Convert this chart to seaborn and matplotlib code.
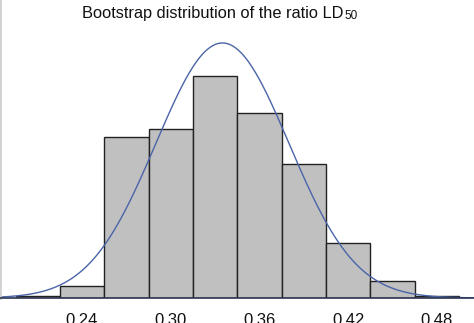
import numpy as np
import pandas as pd
import matplotlib
matplotlib.use("Agg")
import matplotlib.pyplot as plt
import seaborn as sns

# Data
bin_centers = [0.21, 0.24, 0.27, 0.30, 0.33, 0.36, 0.39, 0.42, 0.45, 0.48]
counts = [2, 12, 161, 169, 222, 185, 134, 55, 17, 2]
tick_values = [0.24, 0.30, 0.36, 0.42, 0.48]
tick_labels = ["0.24", "0.30", "0.36", "0.42", "0.48"]
fit_mean = 0.335
fit_sd = 0.045
bin_width = 0.03
title_main = "Bootstrap distribution of the ratio LD"
title_sub = "50"

sns.set_theme(style="white")
plt.rcParams['font.family'] = ['Liberation Sans', 'DejaVu Sans']

fig = plt.figure(figsize=(4.74, 3.23), dpi=100)
ax = fig.add_axes([0, 25/323, 1, 298/323])

df = pd.DataFrame({"x": bin_centers, "w": counts})
lo = bin_centers[0] - bin_width / 2
hi = bin_centers[-1] + bin_width / 2
sns.histplot(data=df, x="x", weights="w", binwidth=bin_width, binrange=(lo, hi),
             color="#c0c0c0", edgecolor="#222222", linewidth=1.0, alpha=1, ax=ax)

# fitted normal curve scaled to the histogram
N = sum(counts)
xs = np.linspace(0.185, 0.505, 400)
ys = N * bin_width / (fit_sd * np.sqrt(2 * np.pi)) * np.exp(-0.5 * ((xs - fit_mean) / fit_sd) ** 2)
sns.lineplot(x=xs, y=ys, color="#4a64a8", linewidth=1.0, ax=ax)

ax.set_xlim(0.1845, 0.5052)
ax.set_ylim(0, 298)
ax.set_xticks(tick_values)
ax.set_xticklabels(tick_labels, fontsize=12, color="#111111")
ax.set_yticks([])
ax.set_xlabel("")
ax.set_ylabel("")
ax.tick_params(axis="x", length=0, pad=10.5)
for s in ["top", "right"]:
    ax.spines[s].set_visible(False)
ax.spines["left"].set_color("#d0d0d0")
ax.spines["left"].set_linewidth(2)
ax.spines["bottom"].set_color("#2a3550")
ax.spines["bottom"].set_linewidth(1.2)

t = fig.text(82/474, 1 - 18/323, title_main, ha="left", va="baseline",
             fontsize=11.8, color="#111111")
fig.canvas.draw()
bb = t.get_window_extent()
fig.text((bb.x1 + 1) / fig.bbox.width, 1 - 19/323, title_sub, ha="left", va="baseline",
         fontsize=8.5, color="#111111")

fig.savefig("out.png", dpi=100)
